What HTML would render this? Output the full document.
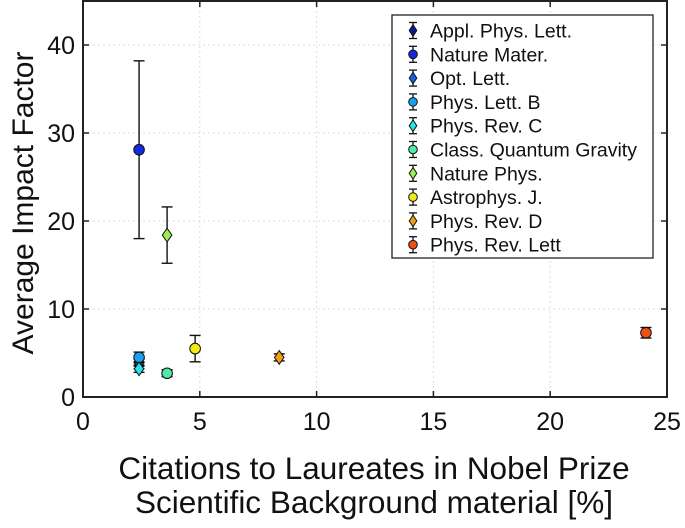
<!DOCTYPE html>
<html><head><meta charset="utf-8"><style>
body{margin:0;background:#fff;}
svg{display:block;font-family:"Liberation Sans",Arial,sans-serif;}
</style></head><body>
<svg id="chart" width="685" height="528" viewBox="0 0 685 528">
<g id="grid"></g>
<g id="axes"></g>
<g id="marks"></g>
<g id="legend"></g>
<text x="374" y="479" font-size="31.5" text-anchor="middle" fill="#111">Citations to Laureates in Nobel Prize</text>
<text x="374" y="513" font-size="31.5" text-anchor="middle" fill="#111">Scientific Background material [%]</text>
<text transform="translate(33,203) rotate(-90)" font-size="30" text-anchor="middle" fill="#111">Average Impact Factor</text>
</svg>
<script>
const journals=["Appl. Phys. Lett.","Nature Mater.","Opt. Lett.","Phys. Lett. B","Phys. Rev. C","Class. Quantum Gravity","Nature Phys.","Astrophys. J.","Phys. Rev. D","Phys. Rev. Lett"];
const xVals=[2.4,2.4,2.4,2.4,2.4,3.6,3.6,4.8,8.4,24.1];
const yVals=[3.6,28.1,3.9,4.5,3.2,2.7,18.4,5.5,4.5,7.3];
const errVals=[0.4,10.1,0.4,0.6,0.4,0.4,3.2,1.5,0.4,0.6];
const markers=["d","o","d","o","d","o","d","o","d","o"];
const colors=["#0a1a8f","#1428e0","#1a5ee8","#1aa0f0","#22e6ea","#4deaa8","#9cf050","#f2ea10","#f0a010","#f05010"];
const xTicks=[0,5,10,15,20,25];
const yTicks=[0,10,20,30,40];
const X0=83,X1=667,Y0=397,Y1=1,xMax=25,yMax=45;
const sx=v=>X0+v/xMax*(X1-X0), sy=v=>Y0-v/yMax*(Y0-Y1);
const NS="http://www.w3.org/2000/svg";
function mk(tag,attrs,parent){const e=document.createElementNS(NS,tag);for(const k in attrs)e.setAttribute(k,attrs[k]);parent.appendChild(e);return e;}
const grid=document.getElementById('grid'),axes=document.getElementById('axes'),marks=document.getElementById('marks'),legend=document.getElementById('legend');
xTicks.forEach(t=>{
 const g=mk('line',{x1:sx(t),x2:sx(t),y1:Y1,y2:Y0,stroke:'#ddd','stroke-dasharray':'2,3'},grid);
 
 
 const tk=mk('line',{x1:sx(t),x2:sx(t),y1:Y0,y2:Y0-6,stroke:'#222','stroke-width':1.5},axes);
 
 
 const tk2=mk('line',{x1:sx(t),x2:sx(t),y1:Y1,y2:Y1+6,stroke:'#222','stroke-width':1.5},axes);
 
 
 const l=mk('text',{x:sx(t),y:Y0+33,'font-size':25,'text-anchor':'middle',fill:'#111'},axes);l.textContent=t;
 
 
});
yTicks.forEach(t=>{
 const g=mk('line',{x1:X0,x2:X1,y1:sy(t),y2:sy(t),stroke:'#ddd','stroke-dasharray':'2,3'},grid);
 
 
 const tk=mk('line',{x1:X0,x2:X0+6,y1:sy(t),y2:sy(t),stroke:'#222','stroke-width':1.5},axes);
 
 
 const tk2=mk('line',{x1:X1,x2:X1-6,y1:sy(t),y2:sy(t),stroke:'#222','stroke-width':1.5},axes);
 
 
 const l=mk('text',{x:X0-8,y:sy(t)+9,'font-size':25,'text-anchor':'end',fill:'#111'},axes);l.textContent=t;
 
 
});
const frame=mk('rect',{x:X0,y:Y1,width:X1-X0,height:Y0-Y1,fill:'none',stroke:'#222','stroke-width':2},axes);


function marker(parent,type,cx,cy,color,r){
 if(type==='o')return mk('circle',{cx:cx,cy:cy,r:r,fill:color,stroke:'#111','stroke-width':1},parent);
 return mk('polygon',{points:`${cx},${cy-r-1.5} ${cx+r-0.5},${cy} ${cx},${cy+r+1.5} ${cx-r+0.5},${cy}`,fill:color,stroke:'#111','stroke-width':1},parent);
}
journals.forEach((j,i)=>{
 const g=mk('g',{},marks);
 
 
 const cx=sx(xVals[i]),yt=sy(yVals[i]+errVals[i]),yb=sy(yVals[i]-errVals[i]);
 mk('line',{x1:cx,x2:cx,y1:yt,y2:yb,stroke:'#111','stroke-width':1.4},g);
 mk('line',{x1:cx-5.5,x2:cx+5.5,y1:yt,y2:yt,stroke:'#111','stroke-width':1.4},g);
 mk('line',{x1:cx-5.5,x2:cx+5.5,y1:yb,y2:yb,stroke:'#111','stroke-width':1.4},g);
 marker(g,markers[i],cx,sy(yVals[i]),colors[i],5.3);
});
const lb=mk('rect',{x:392,y:15,width:261,height:243,fill:'#fff',stroke:'#222','stroke-width':1.3},legend);


journals.forEach((j,i)=>{
 const y=30.5+i*23.8;
 const g=mk('g',{},legend);
 
 
 const cx=413;
 mk('line',{x1:cx,x2:cx,y1:y-8,y2:y+8,stroke:'#111','stroke-width':1.3},g);
 mk('line',{x1:cx-4,x2:cx+4,y1:y-8,y2:y-8,stroke:'#111','stroke-width':1.3},g);
 mk('line',{x1:cx-4,x2:cx+4,y1:y+8,y2:y+8,stroke:'#111','stroke-width':1.3},g);
 marker(g,markers[i],cx,y,colors[i],4.3);
 const t=mk('text',{x:430,y:y+7,'font-size':19.5,fill:'#111'},g);t.textContent=j;
});
</script>
</body></html>
